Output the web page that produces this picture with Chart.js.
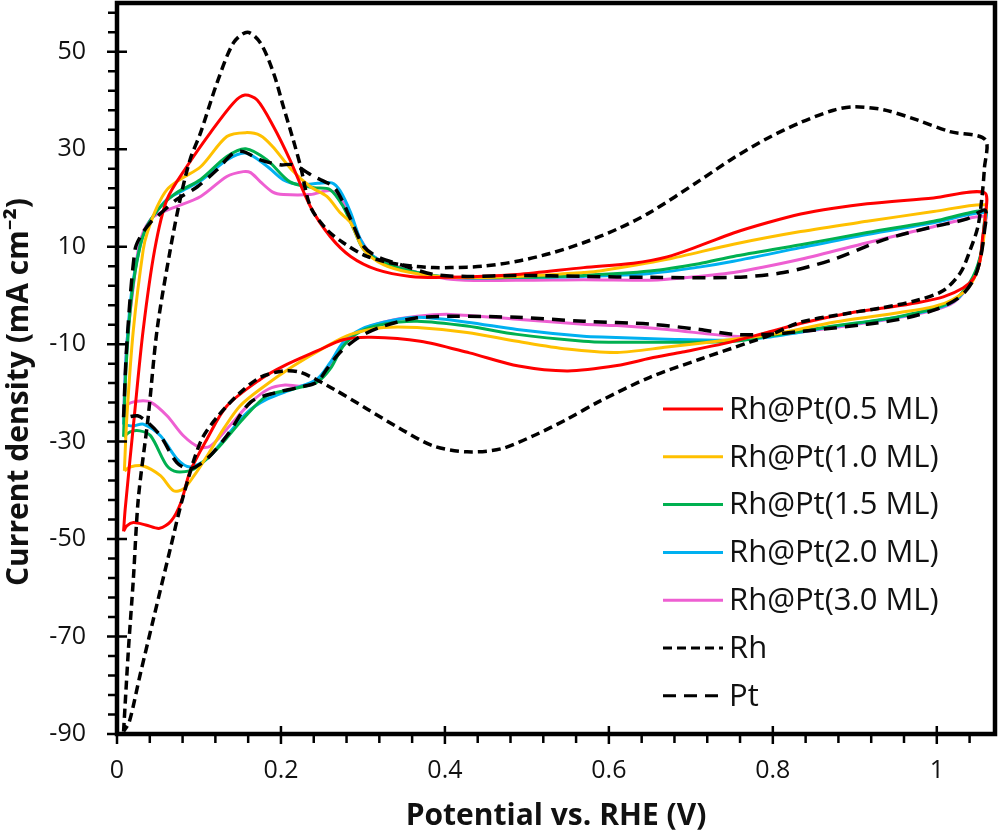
<!DOCTYPE html>
<html>
<head>
<meta charset="utf-8">
<script src="https://cdn.jsdelivr.net/npm/chart.js@4.4.0/dist/chart.umd.min.js"></script>
<style>
  html, body { margin: 0; padding: 0; background: #fff; }
  #wrap { width: 999px; height: 833px; }
</style>
</head>
<body>
<div id="wrap"><canvas id="cv" width="999" height="833"></canvas></div>
<script>
// Axis ranges and tick labels
const xMin = 0, xMax = 1.071;
const yMin = -90, yMax = 60;
const xTicks = [0, 0.2, 0.4, 0.6, 0.8, 1];
const yTicks = [-90, -70, -50, -30, -10, 10, 30, 50];

// Rh@Pt(0.5 ML) - anodic sweep then cathodic sweep
const redX = [0.008, 0.010, 0.021, 0.032, 0.046, 0.061, 0.085, 0.114, 0.142, 0.156, 0.171, 0.191, 0.211, 0.236, 0.260, 0.285, 0.317, 0.358, 0.400, 0.488, 0.569, 0.630, 0.671, 0.711, 0.752, 0.793, 0.834, 0.874, 0.915, 0.996, 1.058,
              1.059, 1.056, 1.052, 1.045, 1.032, 1.008, 0.976, 0.935, 0.894, 0.840, 0.793, 0.740, 0.690, 0.650, 0.610, 0.550, 0.490, 0.430, 0.370, 0.310, 0.276, 0.244, 0.203, 0.175, 0.134, 0.110, 0.089, 0.078, 0.066, 0.052, 0.035, 0.020, 0.012, 0.008];
const redY = [-48.4, -43.8, -25, -7, 9.4, 19.7, 26.4, 33.4, 39.5, 41.1, 40.1, 34.6, 27.8, 18.2, 12.1, 8.0, 5.3, 3.9, 3.7, 4.3, 5.7, 6.6, 7.9, 10.2, 12.8, 14.9, 16.7, 17.9, 18.8, 20.0, 21.1,
              16, 12, 6.5, 3.5, 1.5, -0.3, -1.5, -2.6, -3.6, -5.5, -7.6, -9.9, -11.6, -12.9, -14.4, -15.5, -14.5, -11.8, -9.4, -8.6, -9.1, -11.4, -14.5, -17.2, -22.7, -29.4, -36.2, -42.5, -46.3, -47.8, -47.1, -46.6, -47.3, -48.4];

// Rh@Pt(1.0 ML)
const orangeX = [0.009, 0.012, 0.020, 0.032, 0.037, 0.049, 0.061, 0.077, 0.102, 0.134, 0.157, 0.175, 0.190, 0.213, 0.236, 0.256, 0.272, 0.285, 0.301, 0.325, 0.358, 0.407, 0.488, 0.569, 0.589, 0.671, 0.752, 0.834, 0.915, 0.996, 1.059,
                 1.059, 1.057, 1.051, 1.040, 1.020, 0.996, 0.955, 0.874, 0.813, 0.752, 0.671, 0.610, 0.549, 0.488, 0.427, 0.366, 0.325, 0.285, 0.256, 0.215, 0.175, 0.150, 0.130, 0.110, 0.094, 0.081, 0.069, 0.053, 0.032, 0.016, 0.009];
const orangeY = [-36, -25, -7, 9.4, 12.9, 18.2, 21.7, 23.8, 26.4, 32.6, 33.4, 32.8, 30.5, 25.8, 22.3, 20.3, 17.0, 14.9, 9.4, 6.3, 4.7, 3.7, 3.9, 4.7, 5.0, 7.4, 10.5, 13.1, 15.2, 17.2, 18.6,
                 16.2, 11.4, 6, 1.9, -0.8, -2.3, -3.5, -5.5, -7.6, -9.0, -10.6, -11.7, -11.0, -9.4, -7.6, -6.6, -6.6, -8, -10.4, -14.5, -19.2, -22.7, -27.4, -32.9, -37, -39.7, -40.1, -37, -35, -35.2, -36];

// Rh@Pt(1.5 ML)
const greenX = [0.008, 0.011, 0.018, 0.028, 0.036, 0.044, 0.053, 0.073, 0.102, 0.134, 0.157, 0.183, 0.211, 0.240, 0.260, 0.276, 0.289, 0.301, 0.325, 0.366, 0.407, 0.488, 0.569, 0.650, 0.710, 0.752, 0.834, 0.915, 0.996, 1.059,
                1.058, 1.053, 1.040, 1.016, 0.955, 0.874, 0.793, 0.752, 0.671, 0.600, 0.569, 0.488, 0.427, 0.366, 0.325, 0.297, 0.276, 0.260, 0.244, 0.215, 0.183, 0.154, 0.122, 0.094, 0.073, 0.061, 0.041, 0.028, 0.016, 0.008];
const greenY = [-29, -15, 0, 10, 14, 16.2, 18.2, 21.1, 23.8, 28.5, 30.1, 27.8, 23.3, 22.1, 21.7, 18.2, 13.5, 9.4, 6.7, 4.7, 3.7, 3.7, 4.1, 5.0, 6.5, 8.0, 10.4, 12.9, 15.2, 17.4,
                15, 8, 2.6, -1.5, -4.3, -6.3, -8.4, -9.4, -9.6, -9.6, -9.4, -8, -6.3, -5.3, -5.9, -7.4, -10.4, -15.1, -17.8, -19.2, -20.6, -25.3, -31.5, -35.6, -36.2, -35, -28.8, -27.8, -28, -29];

// Rh@Pt(2.0 ML)
const cyanX = [0.008, 0.011, 0.018, 0.028, 0.036, 0.044, 0.061, 0.080, 0.102, 0.134, 0.157, 0.183, 0.203, 0.224, 0.245, 0.262, 0.272, 0.285, 0.297, 0.313, 0.346, 0.407, 0.488, 0.569, 0.650, 0.710, 0.752, 0.834, 0.915, 0.996, 1.059,
               1.058, 1.053, 1.040, 1.016, 0.955, 0.874, 0.793, 0.752, 0.671, 0.600, 0.569, 0.488, 0.427, 0.366, 0.325, 0.297, 0.276, 0.260, 0.244, 0.215, 0.183, 0.159, 0.134, 0.110, 0.089, 0.073, 0.053, 0.032, 0.020, 0.008];
const cyanY = [-26.5, -13, 1, 10, 14, 16.2, 19.7, 21.5, 23.5, 27.8, 29.2, 26.5, 23.7, 22.7, 23, 23.1, 21.5, 17.0, 11.5, 8.0, 5.5, 3.7, 3.7, 3.9, 4.5, 5.8, 7.0, 9.8, 12.5, 14.9, 17,
               14.5, 7.8, 2.3, -1.7, -4.4, -6.4, -8.6, -9.2, -9.0, -8.6, -8.4, -7, -5.5, -4.5, -5.5, -7, -9.6, -13.8, -17.2, -19.2, -21.3, -24, -28.8, -33.5, -35.2, -33.5, -28.8, -26.4, -26.8, -26.5];

// Rh@Pt(3.0 ML)
const pinkX = [0.008, 0.012, 0.020, 0.026, 0.032, 0.041, 0.049, 0.069, 0.102, 0.134, 0.154, 0.163, 0.175, 0.190, 0.203, 0.236, 0.260, 0.272, 0.285, 0.297, 0.313, 0.346, 0.407, 0.488, 0.569, 0.650, 0.671, 0.752, 0.834, 0.915, 0.996, 1.059,
               1.058, 1.053, 1.040, 1.016, 0.955, 0.874, 0.793, 0.752, 0.671, 0.610, 0.569, 0.488, 0.407, 0.366, 0.325, 0.297, 0.276, 0.260, 0.244, 0.224, 0.205, 0.185, 0.163, 0.134, 0.114, 0.100, 0.081, 0.061, 0.041, 0.025, 0.012, 0.008];
const pinkY = [-25, -10, 2, 9.4, 13, 15.6, 16.6, 18.0, 20.3, 24.4, 25.4, 25.2, 23.3, 21.2, 20.7, 20.7, 21.5, 20, 16.2, 11.5, 8.0, 5.7, 3.3, 3.1, 3.2, 3.1, 3.3, 4.7, 7.4, 10.8, 14.1, 16.3,
               14.1, 7.4, 2.2, -1.9, -4.5, -6.6, -8.4, -8.4, -7, -6.2, -5.9, -4.9, -3.9, -4.3, -5.5, -7.2, -10, -14.5, -17.6, -18.6, -18.4, -19.2, -22, -27.4, -30.9, -31.1, -28.8, -24.7, -21.9, -21.7, -22.5, -25];

// Rh
const rhX = [0.008, 0.014, 0.020, 0.026, 0.038, 0.049, 0.065, 0.077, 0.089, 0.102, 0.122, 0.142, 0.159, 0.175, 0.191, 0.203, 0.215, 0.224, 0.236, 0.256, 0.276, 0.305, 0.346, 0.386, 0.407, 0.447, 0.488, 0.528, 0.569, 0.610, 0.650, 0.711, 0.752, 0.793, 0.834, 0.874, 0.898, 0.935, 0.976, 1.016, 1.059,
             1.058, 1.055, 1.050, 1.040, 1.029, 1.008, 0.976, 0.935, 0.894, 0.834, 0.793, 0.772, 0.711, 0.650, 0.589, 0.549, 0.508, 0.468, 0.427, 0.386, 0.346, 0.305, 0.264, 0.224, 0.203, 0.175, 0.150, 0.122, 0.102, 0.080, 0.065, 0.045, 0.028, 0.015, 0.008];
const rhY = [-89.5, -72.5, -58.1, -41.7, -25, -6.9, 9.4, 19.7, 27.8, 33.4, 43.6, 51.8, 54, 51.8, 45.6, 38.7, 31.9, 26.4, 18.2, 13.5, 10.8, 8.0, 6.3, 5.7, 5.7, 6.0, 7.0, 8.6, 10.8, 13.6, 17.0, 23.6, 28.2, 32.2, 35.5, 38.0, 38.7, 38.1, 36, 33.6, 32,
             26, 20, 14, 9, 4.7, 1.0, -1.0, -2.5, -3.6, -5.5, -8.4, -9.6, -13.1, -16.8, -21.7, -25.4, -28.8, -31.5, -32.1, -30.9, -27.4, -23.3, -19.2, -15.8, -15.5, -16.8, -20, -25, -30, -41.7, -52, -66, -78, -87.5, -89.5];

// Pt
const ptX = [0.008, 0.012, 0.022, 0.030, 0.041, 0.049, 0.073, 0.098, 0.122, 0.142, 0.154, 0.175, 0.199, 0.215, 0.240, 0.264, 0.276, 0.289, 0.301, 0.317, 0.346, 0.386, 0.427, 0.488, 0.569, 0.650, 0.752, 0.813, 0.874, 0.935, 0.996, 1.037, 1.059,
             1.058, 1.053, 1.045, 1.029, 1.000, 0.955, 0.915, 0.834, 0.793, 0.752, 0.711, 0.650, 0.569, 0.488, 0.407, 0.366, 0.325, 0.297, 0.272, 0.256, 0.244, 0.224, 0.195, 0.163, 0.134, 0.110, 0.089, 0.073, 0.053, 0.037, 0.025, 0.012, 0.008];
const ptY = [-25, -10, 9.4, 12.5, 15, 16.2, 19.7, 22.3, 25.8, 29.2, 29.5, 27.8, 26.8, 26.8, 24.4, 22.3, 19, 14.1, 10, 8.0, 6.3, 4.3, 3.9, 4.1, 3.9, 3.7, 3.7, 4.7, 7.4, 11.4, 14.1, 15.7, 17.5,
             13, 7.4, 3.3, -0.2, -2.8, -4.9, -5.9, -7.4, -8.0, -8.0, -7, -5.9, -5.3, -4.5, -4.3, -4.6, -6.3, -8.4, -11.7, -15.1, -17.8, -18.8, -19.9, -21.9, -28.8, -33.5, -35.6, -34.3, -28.8, -26, -24.7, -25, -25];

const seriesNames = ['Rh@Pt(0.5 ML)', 'Rh@Pt(1.0 ML)', 'Rh@Pt(1.5 ML)', 'Rh@Pt(2.0 ML)', 'Rh@Pt(3.0 ML)', 'Rh', 'Pt'];
const seriesX = [redX, orangeX, greenX, cyanX, pinkX, rhX, ptX];
const seriesY = [redY, orangeY, greenY, cyanY, pinkY, rhY, ptY];

// Styles
const seriesColors = ['#FF0000', '#FFC000', '#00B050', '#00B0F0', '#EE5FD2', '#000000', '#000000'];
const seriesDash = [[], [], [], [], [], [9, 5], [13, 8]];
const seriesWidth = [3, 3, 3, 3, 3, 3.5, 3.5];

const fontFamily = '"Open Sans", "Noto Sans", sans-serif';

const datasets = seriesNames.map((name, i) => ({
    label: name,
    data: seriesX[i].map((x, k) => ({ x: x, y: seriesY[i][k] })),
    borderColor: seriesColors[i],
    backgroundColor: seriesColors[i],
    borderWidth: seriesWidth[i],
    borderDash: seriesDash[i],
    showLine: true,
    pointRadius: 0,
    tension: 0.3,
    fill: false,
    order: i >= 5 ? 0 : 1,
}));

// Frame and tick marks (major ticks cross the axis, minor ticks outside)
const framePlugin = {
    id: 'frame',
    afterDraw(chart) {
        const { ctx, chartArea: a, scales: { x, y } } = chart;
        ctx.save();
        ctx.strokeStyle = '#000';
        ctx.lineWidth = 2.5;
        ctx.beginPath();
        for (let i = 0; i * 4 <= yMax - yMin; i++) {
            const py = y.getPixelForValue(yMin + i * 4);
            ctx.moveTo(a.left - 9, py);
            ctx.lineTo(a.left, py);
        }
        yTicks.forEach(v => {
            const py = y.getPixelForValue(v);
            ctx.moveTo(a.left - 10, py);
            ctx.lineTo(a.left + 10, py);
        });
        for (let i = 0; i * 0.04 <= xMax; i++) {
            const px = x.getPixelForValue(i * 0.04);
            ctx.moveTo(px, a.bottom);
            ctx.lineTo(px, a.bottom + 9);
        }
        xTicks.forEach(v => {
            const px = x.getPixelForValue(v);
            ctx.moveTo(px, a.bottom - 8);
            ctx.lineTo(px, a.bottom + 10);
        });
        ctx.stroke();
        ctx.lineWidth = 4.5;
        ctx.strokeRect(a.left, a.top, a.right - a.left, a.bottom - a.top);
        ctx.restore();
    }
};

// Legend inside the plot, lower right
const legendPlugin = {
    id: 'innerLegend',
    afterDatasetsDraw(chart) {
        const ctx = chart.ctx;
        ctx.save();
        ctx.font = '31px ' + fontFamily;
        ctx.textBaseline = 'middle';
        ctx.fillStyle = '#111';
        chart.data.datasets.forEach((ds, i) => {
            const yy = 409 + i * 47.8;
            ctx.strokeStyle = ds.borderColor;
            ctx.lineWidth = 3;
            ctx.setLineDash(ds.borderDash);
            ctx.beginPath();
            ctx.moveTo(663, yy);
            ctx.lineTo(723, yy);
            ctx.stroke();
            ctx.setLineDash([]);
            ctx.fillText(ds.label, 729, yy + 1);
        });
        ctx.restore();
    }
};

// Vertical axis title
const yTitlePlugin = {
    id: 'yTitle',
    afterDraw(chart) {
        const ctx = chart.ctx;
        ctx.save();
        ctx.translate(19, 392);
        ctx.rotate(-Math.PI / 2);
        ctx.font = 'bold 30px ' + fontFamily;
        ctx.fillStyle = '#111';
        ctx.textAlign = 'center';
        ctx.textBaseline = 'middle';
        ctx.fillText('Current density (mA cm\u207B\u00B2)', 0, 0);
        ctx.restore();
    }
};

new Chart(document.getElementById('cv'), {
    type: 'scatter',
    data: { datasets: datasets },
    options: {
        responsive: false,
        animation: false,
        layout: { padding: { top: 3, right: 4, left: 0, bottom: 0 } },
        plugins: {
            legend: { display: false },
            tooltip: { enabled: false },
        },
        scales: {
            x: {
                type: 'linear',
                min: xMin,
                max: xMax,
                afterBuildTicks: s => { s.ticks = xTicks.map(v => ({ value: v })); },
                afterFit: s => { s.height = 99; s.paddingLeft = 0; s.paddingRight = 0; },
                grid: { display: false, drawTicks: false },
                border: { display: false },
                ticks: {
                    color: '#111',
                    padding: 22,
                    maxRotation: 0,
                    font: { family: fontFamily, size: 25 },
                    callback: v => String(+v.toFixed(1)),
                },
                title: {
                    display: true,
                    text: 'Potential vs. RHE (V)',
                    color: '#111',
                    padding: { top: 0, bottom: 0 },
                    font: { family: fontFamily, size: 30, weight: 'bold', lineHeight: 1.1 },
                },
            },
            y: {
                type: 'linear',
                min: yMin,
                max: yMax,
                afterBuildTicks: s => { s.ticks = yTicks.map(v => ({ value: v })); },
                afterFit: s => { s.width = 117; s.paddingTop = 0; s.paddingBottom = 0; },
                grid: { display: false, drawTicks: false },
                border: { display: false },
                ticks: {
                    color: '#111',
                    padding: 31,
                    font: { family: fontFamily, size: 25 },
                },
            },
        },
    },
    plugins: [framePlugin, legendPlugin, yTitlePlugin],
});
</script>
</body>
</html>
